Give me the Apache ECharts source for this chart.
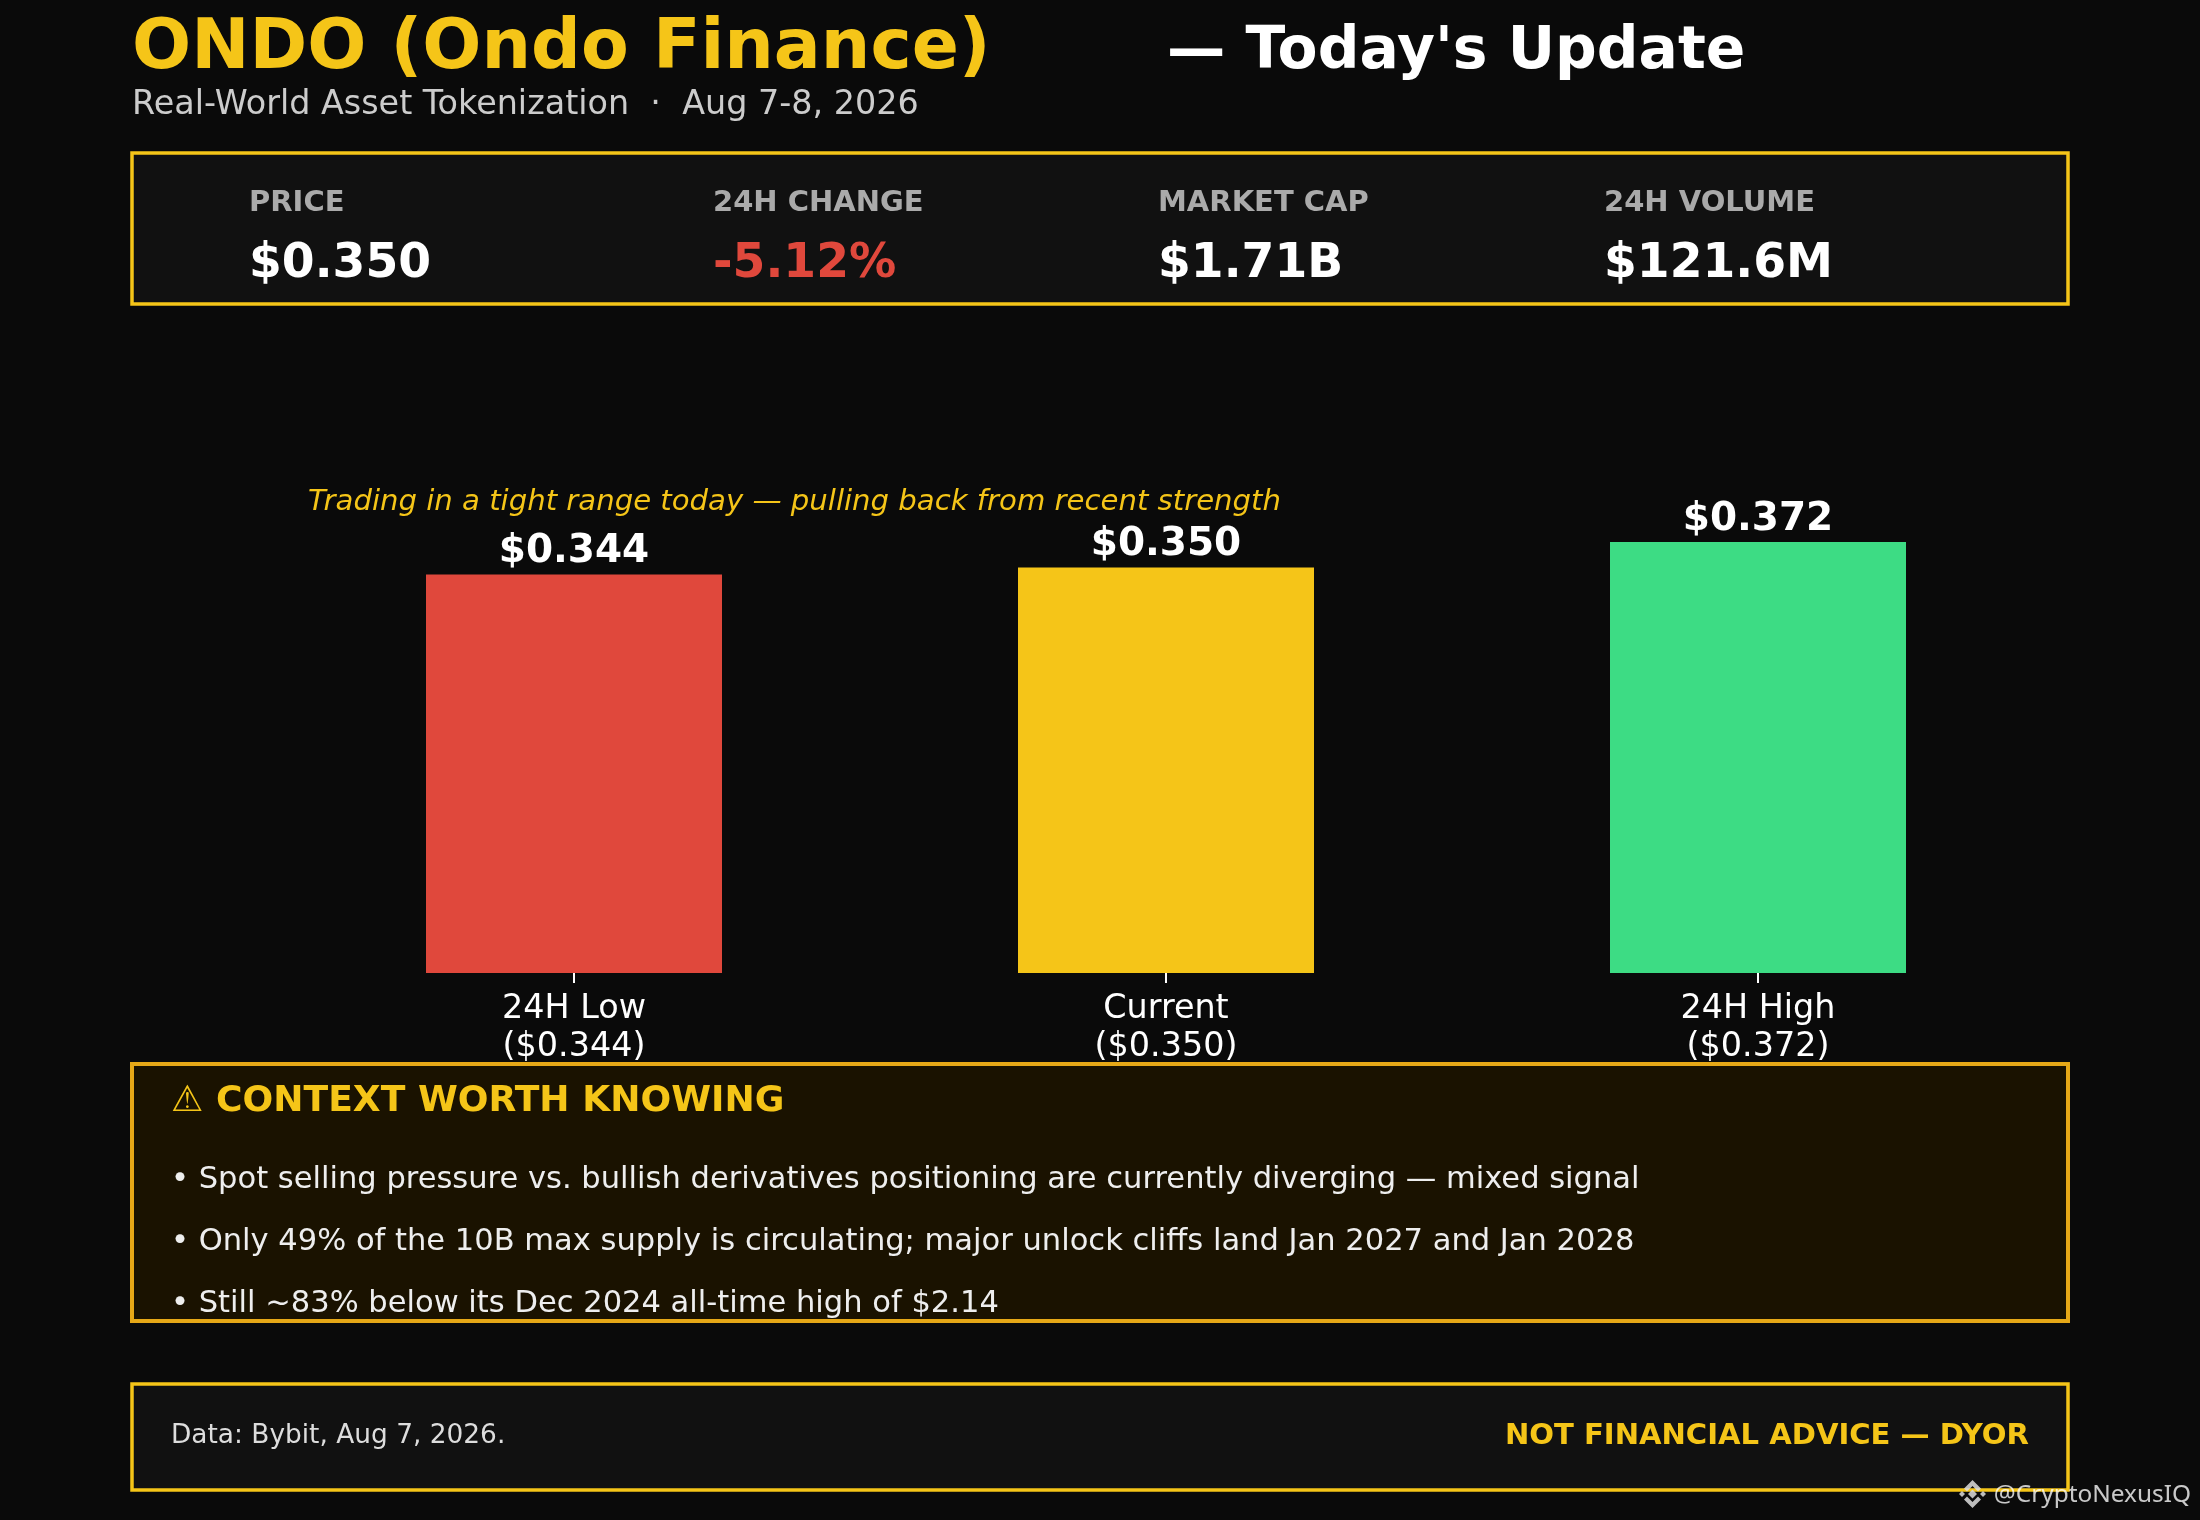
<!DOCTYPE html>
<html><head><meta charset="utf-8">
<style>html,body{margin:0;padding:0;background:#0a0a0a}#c{width:2200px;height:1520px}</style>
<script src="https://cdn.jsdelivr.net/npm/echarts@6/dist/echarts.min.js"></script>
</head><body><div id="c"></div>
<script>
const categories = ['24H Low\n($0.344)', 'Current\n($0.350)', '24H High\n($0.372)'];
const values = [0.344, 0.350, 0.372];
const barColors = ['#e0483c', '#f5c518', '#3ddc84'];
const statLabels = ['PRICE', '24H CHANGE', 'MARKET CAP', '24H VOLUME'];
const statValues = ['$0.350', '-5.12%', '$1.71B', '$121.6M'];
const statColors = ['#ffffff', '#e0483c', '#ffffff', '#ffffff'];
const statX = [249, 713, 1158, 1604];
const bullets = [
  '• Spot selling pressure vs. bullish derivatives positioning are currently diverging — mixed signal',
  '• Only 49% of the 10B max supply is circulating; major unlock cliffs land Jan 2027 and Jan 2028',
  '• Still ~83% below its Dec 2024 all-time high of $2.14'
];
const bulletY = [1180, 1242, 1304];
const F = '"DejaVu Sans"';
function t(text, x, y, size, fill, opt) {
  opt = opt || {};
  return {type:'text', z: opt.z || 10, zlevel: 0, style:{
    text, x, y, fill, opacity: opt.opacity == null ? 1 : opt.opacity,
    font: (opt.style||'normal') + ' ' + (opt.weight||'normal') + ' ' + size + 'px ' + (opt.family||F),
    textAlign: opt.align||'left', textVerticalAlign:'middle'
  }};
}
function box(x,y,w,h,fill,stroke,lw){
  return {type:'rect', z:1, shape:{x,y,width:w,height:h}, style:{fill,stroke,lineWidth:lw}};
}
function poly(pts,fill){ return {type:'polygon', z:20, shape:{points:pts}, style:{fill,opacity:0.85}}; }
const cx=1972.5, cy=1494;
const logo = [
  poly([[cx,cy-4.5],[cx+4.5,cy],[cx,cy+4.5],[cx-4.5,cy]],'#dddddd'),
  poly([[cx-13.5,cy],[cx-10.5,cy-3],[cx-7.5,cy],[cx-10.5,cy+3]],'#dddddd'),
  poly([[cx+13.5,cy],[cx+10.5,cy-3],[cx+7.5,cy],[cx+10.5,cy+3]],'#dddddd'),
  poly([[cx,cy-14],[cx+8.5,cy-5.5],[cx+5.5,cy-2.5],[cx,cy-8],[cx-5.5,cy-2.5],[cx-8.5,cy-5.5]],'#dddddd'),
  poly([[cx,cy+14],[cx+8.5,cy+5.5],[cx+5.5,cy+2.5],[cx,cy+8],[cx-5.5,cy+2.5],[cx-8.5,cy+5.5]],'#dddddd')
];
const graphics = [
  box(132,153,1936,151,'#111111','#f5c518',3.5),
  box(132,1064,1936,257,'#1a1200','#e6a817',4),
  box(132,1384,1936,106,'#111111','#f5c518',3.5),
  t('ONDO (Ondo Finance)',132,49.5,69.6,'#f5c518',{weight:'bold'}),
  t("— Today's Update",1167,52.5,58.3,'#ffffff',{weight:'bold'}),
  t('Real-World Asset Tokenization  ·  Aug 7-8, 2026',132,105.5,33.4,'#cccccc'),
  t('Trading in a tight range today — pulling back from recent strength',794.5,502,29.15,'#f5c518',{style:'italic',align:'center'}),
  t('⚠ CONTEXT WORTH KNOWING',171,1102,36.15,'#f5c518',{weight:'bold'}),
  t('Data: Bybit, Aug 7, 2026.',171,1436,26.4,'#dddddd'),
  t('NOT FINANCIAL ADVICE — DYOR',2029,1436,29.1,'#f5c518',{weight:'bold',align:'right'}),
  t('@CryptoNexusIQ',2191,1495,24.4,'#ffffff',{family:'"Noto Sans"',align:'right',opacity:0.78,z:20}),
  ...logo,
  ...statLabels.map((s,i)=>t(s,statX[i],203,29,'#aaaaaa',{weight:'bold'})),
  ...statValues.map((s,i)=>t(s,statX[i],265,47.2,statColors[i],{weight:'bold'})),
  ...bullets.map((s,i)=>t(s,171,bulletY[i],30.54,'#eeeeee'))
];
const chart = echarts.init(document.getElementById('c'), null, {renderer:'canvas', width:2200, height:1520});
chart.setOption({
  backgroundColor:'#0a0a0a',
  animation:false,
  grid:{left:278, width:1776, top:509.5, height:463.5, containLabel:false},
  xAxis:{type:'category', data:categories,
    axisLine:{show:false},
    axisTick:{show:true, alignWithLabel:true, length:10, lineStyle:{color:'#ffffff',width:2}},
    axisLabel:{color:'#ffffff', fontFamily:F, fontSize:33.4, lineHeight:38, margin:17}
  },
  yAxis:{type:'value', min:0, max:0.4, show:false, splitLine:{show:false}},
  graphic:{elements:graphics},
  series:[{type:'bar', barWidth:'50%',
    data: values.map((v,i)=>({value:v, itemStyle:{color:barColors[i]}})),
    label:{show:true, position:'top', distance:3, color:'#ffffff', fontFamily:F, fontWeight:'bold', fontSize:39,
      formatter:p=>'$'+p.value.toFixed(3)}
  }]
});
</script></body></html>
